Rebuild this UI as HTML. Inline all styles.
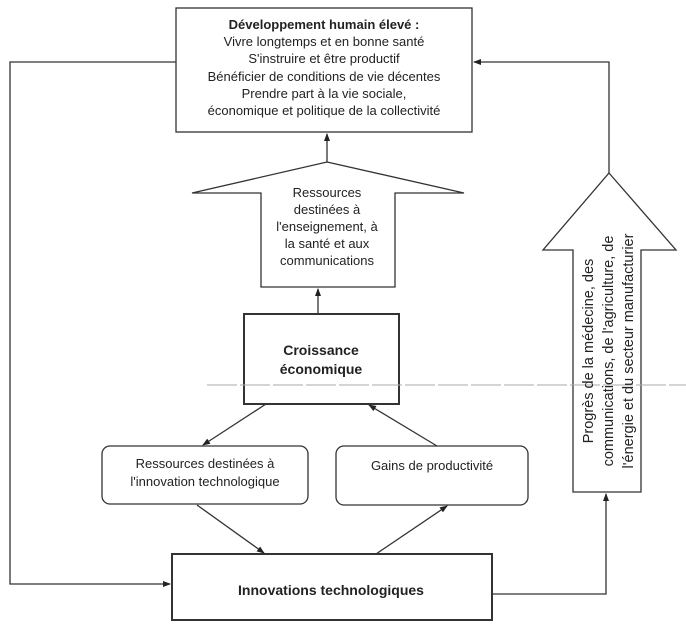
<!DOCTYPE html>
<html><head><meta charset="utf-8"><style>
html,body{margin:0;padding:0;background:#fff;}
svg{display:block;font-family:"Liberation Sans",Arial,sans-serif;}
</style></head><body>
<svg width="686" height="627" viewBox="0 0 686 627" xmlns="http://www.w3.org/2000/svg">
<defs>
<marker id="a" markerWidth="8" markerHeight="8" refX="7" refY="4" orient="auto" markerUnits="userSpaceOnUse">
<path d="M0,1 L8,4 L0,7 Z" fill="#222"/></marker>
</defs>
<g stroke="#333" fill="none" stroke-width="1.3">
<rect x="176" y="8" width="296" height="124" fill="#fff"/>
<polyline points="176,62 10,62 10,584 170,584" marker-end="url(#a)"/>
<polyline points="492,594 606,594 606,494" marker-end="url(#a)"/>
<polyline points="609,173 609,62 474,62" marker-end="url(#a)"/>
<line x1="327" y1="162" x2="327" y2="134" marker-end="url(#a)"/>
<line x1="318" y1="314" x2="318" y2="289" marker-end="url(#a)"/>
<polygon points="327,162 464,193 395,193 395,287 261,287 261,193 192,193" fill="#fff"/>
<polygon points="609,173 676,250 641,250 641,492 573,492 573,250 543,250" fill="#fff"/>
<rect x="244" y="314" width="155" height="90" stroke-width="2" fill="#fff"/>
<rect x="102" y="446" width="206" height="58" rx="8" fill="#fff"/>
<rect x="336" y="446" width="192" height="59" rx="8" fill="#fff"/>
<rect x="172" y="554" width="320" height="66" stroke-width="2" fill="#fff"/>
<line x1="266" y1="404" x2="203" y2="445" marker-end="url(#a)"/>
<line x1="437" y1="446" x2="369" y2="405" marker-end="url(#a)"/>
<line x1="197" y1="505" x2="264" y2="553" marker-end="url(#a)"/>
<line x1="376" y1="554" x2="447" y2="506" marker-end="url(#a)"/>
</g>
<line x1="207" y1="385" x2="686" y2="385" stroke="#aaa" stroke-width="1" stroke-dasharray="30,3"/>
<g fill="#222" font-size="13" text-anchor="middle">
<text x="324" y="29" font-weight="bold">Développement humain élevé :</text>
<text x="324" y="46">Vivre longtemps et en bonne santé</text>
<text x="324" y="63">S'instruire et être productif</text>
<text x="324" y="81">Bénéficier de conditions de vie décentes</text>
<text x="324" y="98">Prendre part à la vie sociale,</text>
<text x="324" y="115">économique et politique de la collectivité</text>
<text x="327" y="197">Ressources</text>
<text x="327" y="214">destinées à</text>
<text x="327" y="231">l'enseignement, à</text>
<text x="327" y="248">la santé et aux</text>
<text x="327" y="265">communications</text>
<text x="321" y="355" font-weight="bold" font-size="14">Croissance</text>
<text x="321" y="374" font-weight="bold" font-size="14">économique</text>
<text x="205" y="468">Ressources destinées à</text>
<text x="205" y="486">l'innovation technologique</text>
<text x="432" y="470">Gains de productivité</text>
<text x="331" y="595" font-weight="bold" font-size="14">Innovations technologiques</text>
<g transform="translate(609,351) rotate(-90)" font-size="14.5">
<text x="0" y="-16">Progrès de la médecine, des</text>
<text x="0" y="4">communications, de l'agriculture, de</text>
<text x="0" y="24">l'énergie et du secteur manufacturier</text>
</g>
</g>
</svg>
</body></html>
